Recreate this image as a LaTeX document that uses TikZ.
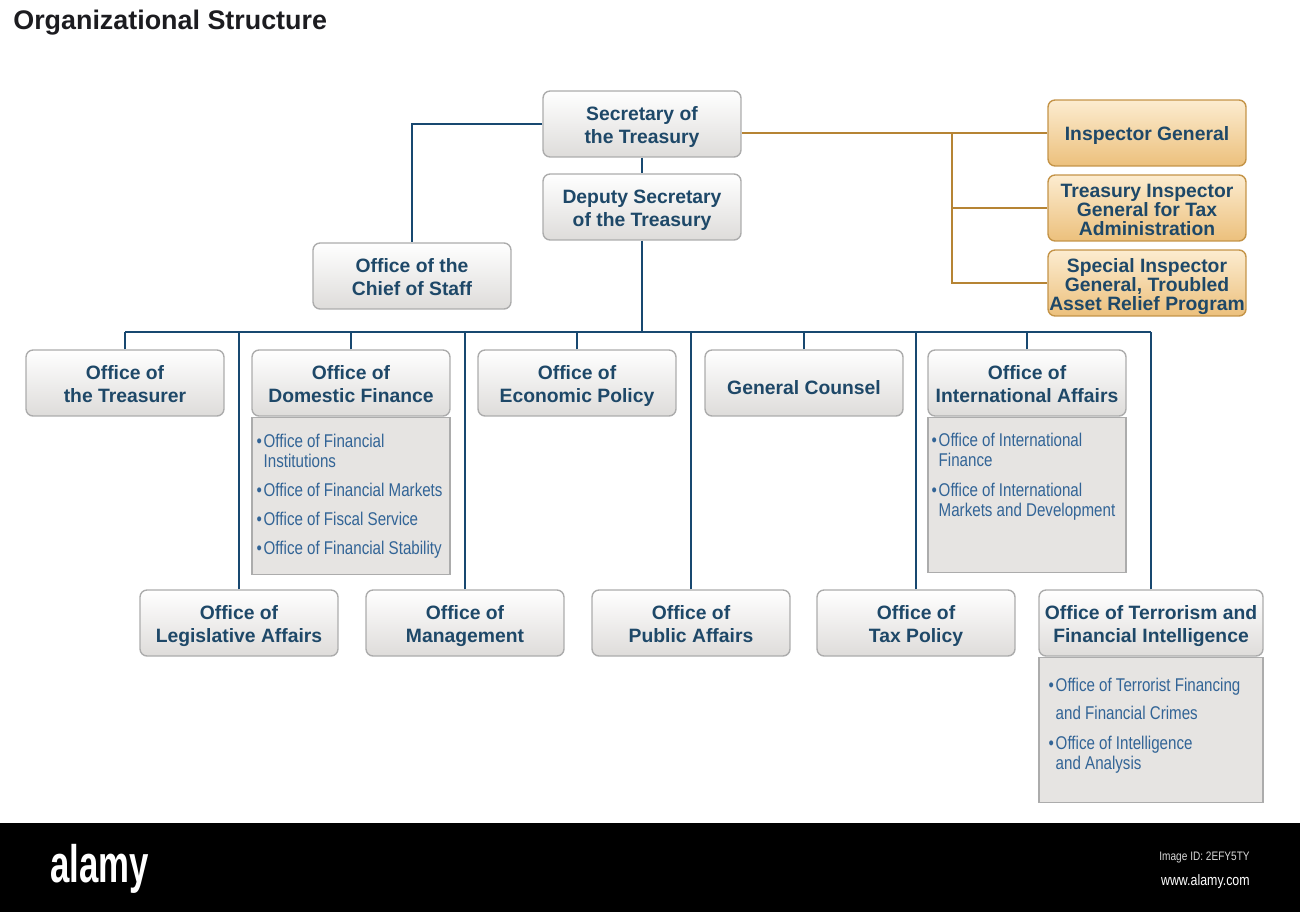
\documentclass[tikz,border=0pt]{standalone}
\usepackage{fontspec}
\setmainfont{Liberation Sans}
\newfontfamily\narrowfont[FakeStretch=0.82]{Liberation Sans}
\newfontfamily\logofont[FakeStretch=0.66]{Liberation Sans}
\usetikzlibrary{positioning, backgrounds}

\definecolor{titlecol}{RGB}{28,28,32}
\definecolor{boxtext}{RGB}{30,72,104}
\definecolor{listtext}{RGB}{50,100,150}
\definecolor{linkblue}{RGB}{24,72,112}
\definecolor{linkorange}{RGB}{182,132,52}
\definecolor{boxedge}{RGB}{172,172,172}
\definecolor{boxlow}{RGB}{222,220,218}
\definecolor{listfill}{RGB}{230,228,226}
\definecolor{igtop}{RGB}{252,236,208}
\definecolor{iglow}{RGB}{236,192,124}
\definecolor{igedge}{RGB}{196,148,72}

\tikzset{
  orgbox/.style={rectangle, draw=boxedge, rounded corners=4pt,
                 top color=white, bottom color=boxlow, line width=0.8pt,
                 minimum width=3.96cm, minimum height=1.32cm,
                 align=center, text=boxtext,
                 text height=24.8pt, text depth=2.5pt,
                 font=\bfseries\fontsize{11}{13.2}\selectfont},
  oneline/.style={text height=15.5pt},
  igbox/.style={orgbox, draw=igedge, top color=igtop, bottom color=iglow,
                inner xsep=0pt, inner ysep=0pt, text height=34.3pt,
                font=\bfseries\fontsize{11}{11}\selectfont},
  listbody/.style={rectangle, draw=boxedge, fill=listfill, line width=0.8pt,
                   minimum width=3.96cm, inner sep=0pt},
  listtxt/.style={anchor=north west, inner sep=0pt, align=left, text=listtext,
                  font=\narrowfont\fontsize{10.5}{11.4}\selectfont},
  bline/.style={draw=linkblue, line width=1.6pt},
  oline/.style={draw=linkorange, line width=1.6pt},
}

\begin{document}
\begin{tikzpicture}[x=0.02cm, y=-0.02cm]

  \useasboundingbox (0,0) rectangle (1300,912);

  \node[anchor=base west, inner sep=0pt, text=titlecol,
        font=\bfseries\fontsize{15.3}{18}\selectfont] (title) at (13,30)
    {Organizational Structure};

  % top of the chart
  \node[orgbox] (sec) at (642,124) {Secretary of\\the Treasury};
  \node[orgbox] (dep) at (642,207) {Deputy Secretary\\of the Treasury};
  \node[orgbox] (cos) at (412,276) {Office of the\\Chief of Staff};

  \node[igbox, text height=11pt] (ig) at (1147,133) {Inspector General};
  \node[igbox] (tigta)   at (1147,208) {Treasury Inspector\\General for Tax\\Administration};
  \node[igbox] (sigtarp) at (1147,283) {Special Inspector\\General, Troubled\\Asset Relief Program};

  % first row
  \node[orgbox] (tre) at (125,383)  {Office of\\the Treasurer};
  \node[orgbox] (dom) at (351,383)  {Office of\\Domestic Finance};
  \node[orgbox] (eco) at (577,383)  {Office of\\Economic Policy};
  \node[orgbox, oneline] (gc) at (804,383) {General Counsel};
  \node[orgbox] (ia)  at (1027,383) {Office of\\International Affairs};

  % second row
  \node[orgbox] (leg)  at (239,623)  {Office of\\Legislative Affairs};
  \node[orgbox] (mgmt) at (465,623)  {Office of\\Management};
  \node[orgbox] (pub)  at (691,623)  {Office of\\Public Affairs};
  \node[orgbox] (tax)  at (916,623)  {Office of\\Tax Policy};
  \node[orgbox, minimum width=4.48cm] (tfi) at (1151,623)
    {Office of Terrorism and\\Financial Intelligence};

  % sub-office lists
  \begin{scope}[on background layer]
    \node[listbody, minimum height=3.14cm, below=0pt of dom] (domlist) {};
    \node[listbody, minimum height=3.10cm, below=0pt of ia] (ialist) {};
    \node[listbody, minimum width=4.48cm, minimum height=2.90cm,
          below=0pt of tfi] (tfilist) {};
  \end{scope}

  \node[listtxt] (domitems) at ([xshift=0.1cm, yshift=-0.35cm]domlist.north west)
    {•\kern1pt Office of Financial\\
     \phantom{•}\kern1pt Institutions\\[5pt]
     •\kern1pt Office of Financial Markets\\[5pt]
     •\kern1pt Office of Fiscal Service\\[5pt]
     •\kern1pt Office of Financial Stability};

  \node[listtxt] (iaitems) at ([xshift=0.08cm, yshift=-0.33cm]ialist.north west)
    {•\kern1pt Office of International\\
     \phantom{•}\kern1pt Finance\\[5.5pt]
     •\kern1pt Office of International\\
     \phantom{•}\kern1pt Markets and Development};

  \node[listtxt] (tfiitems) at ([xshift=0.2cm, yshift=-0.42cm]tfilist.north west)
    {•\kern1pt Office of Terrorist Financing\\[4.5pt]
     \phantom{•}\kern1pt and Financial Crimes\\[5.5pt]
     •\kern1pt Office of Intelligence\\
     \phantom{•}\kern1pt and Analysis};

  % connectors
  \coordinate (bus) at (637,332);
  \coordinate (ospine) at (952,133);

  \draw[bline] (sec.west) -| (cos.north);
  \draw[bline] (sec.south) -- (dep.north);
  \draw[bline] (dep.south) -- (dep.south |- bus);
  \draw[bline] (tre.north |- bus) -- (tfi.north |- bus);
  \foreach \n in {tre, dom, eco, gc, ia, leg, mgmt, pub, tax, tfi}
    \draw[bline] (\n.north) -- (\n.north |- bus);

  \draw[oline] (sec.east |- ig.west) -- (ig.west);
  \draw[oline] (ospine) |- (sigtarp.west);
  \draw[oline] (ospine |- tigta.west) -- (tigta.west);

  % stock photo band
  \fill[black] (0,823) rectangle (1300,912);
  \node[anchor=base west, inner sep=0pt, text=white,
        font=\logofont\bfseries\fontsize{30}{32}\selectfont] (logo) at (50,882) {alamy};
  \node[anchor=base east, inner sep=0pt, text=white!85!black,
        font=\narrowfont\fontsize{7}{8}\selectfont] (imgid) at (1250,860) {Image ID: 2EFY5TY};
  \node[anchor=base east, inner sep=0pt, text=white,
        font=\narrowfont\fontsize{8.6}{10}\selectfont] (site) at (1250,885) {www.alamy.com};

\end{tikzpicture}
\end{document}
